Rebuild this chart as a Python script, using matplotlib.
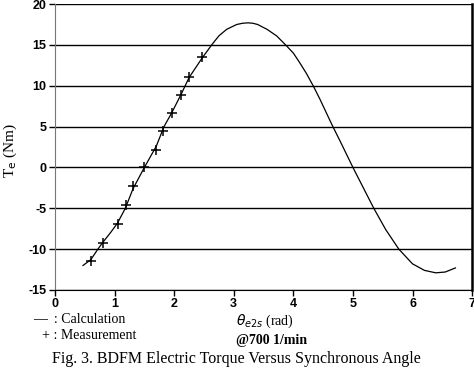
import matplotlib
matplotlib.use("Agg")
import matplotlib.pyplot as plt

# calculated torque curve
calc_x = [0.47, 0.60, 0.72, 0.81, 0.93, 1.05, 1.18, 1.31, 1.50, 1.70, 1.83, 1.96,
          2.12, 2.25, 2.47, 2.63, 2.75, 2.88, 3.05, 3.15, 3.24, 3.32, 3.40, 3.56,
          3.72, 3.87, 4.00, 4.10, 4.22, 4.34, 4.45, 4.54, 4.65, 4.80, 5.00, 5.35,
          5.55, 5.77, 6.00, 6.20, 6.39, 6.55, 6.72]
calc_y = [-12.0, -11.3, -10.0, -9.1, -8.0, -6.8, -5.0, -2.6, 0.0, 2.6, 5.0, 6.7,
          9.0, 11.0, 13.4, 15.0, 16.1, 16.9, 17.5, 17.65, 17.7, 17.65, 17.5, 16.9,
          16.1, 15.0, 14.0, 12.9, 11.5, 9.9, 8.3, 6.9, 5.2, 3.0, 0.0, -5.0,
          -7.6, -10.0, -11.8, -12.6, -12.9, -12.8, -12.3]

# measured points
meas_x = [0.60, 0.81, 1.05, 1.19, 1.31, 1.50, 1.70, 1.81, 1.96, 2.12, 2.25, 2.47]
meas_y = [-11.4, -9.2, -6.9, -4.6, -2.3, 0.0, 2.1, 4.4, 6.7, 8.9, 11.1, 13.5]

xticks = [0, 1, 2, 3, 4, 5, 6, 7]
yticks = [-15, -10, -5, 0, 5, 10, 15, 20]

fig = plt.figure(figsize=(4.74, 3.68), dpi=100)
ax = fig.add_axes([0.116, 0.212, 0.88, 0.777])

for v in yticks:
    ax.axhline(v, color="black", lw=1.0, zorder=1)

ax.plot(calc_x, calc_y, color="black", lw=0.9, zorder=3)
ax.plot(meas_x, meas_y, ls="none", marker="+", ms=7, mew=1.1, color="black", zorder=4)

ax.set_xlim(0, 7)
ax.set_ylim(-15, 20)
ax.set_xticks(xticks)
ax.set_yticks(yticks)
ax.set_xticklabels([str(t) for t in xticks])
ax.set_yticklabels([str(t) for t in yticks])
ax.tick_params(labelsize=9, length=4, width=1, direction="out", colors="black", pad=2)
for lab in ax.get_xticklabels() + ax.get_yticklabels():
    lab.set_fontweight("bold")
    lab.set_family("Liberation Sans")

ax.spines["left"].set_color("#777777")
ax.spines["right"].set_color("black")
ax.spines["right"].set_linewidth(1.8)
ax.spines["top"].set_visible(False)

serif = "Liberation Serif"
fig.text(0.022, 0.59, r"T$_{\rm e}$ (Nm)", rotation=90, family=serif,
         fontsize=11, ha="center", va="center")
fig.text(0.497, 0.128, r"$\theta_{e2s}$ (rad)", family=serif, fontsize=10,
         ha="left", va="center")
fig.text(0.497, 0.075, "@700 1/min", family=serif, fontsize=10, fontweight="bold",
         ha="left", va="center")
fig.text(0.07, 0.132, "—  : Calculation", family=serif, fontsize=10,
         ha="left", va="center")
fig.text(0.088, 0.088, "+ : Measurement", family=serif, fontsize=10,
         ha="left", va="center")
fig.text(0.11, 0.003, "Fig. 3. BDFM Electric Torque Versus Synchronous Angle",
         family=serif, fontsize=11.5, ha="left", va="bottom")

fig.savefig("out.png", dpi=100)
